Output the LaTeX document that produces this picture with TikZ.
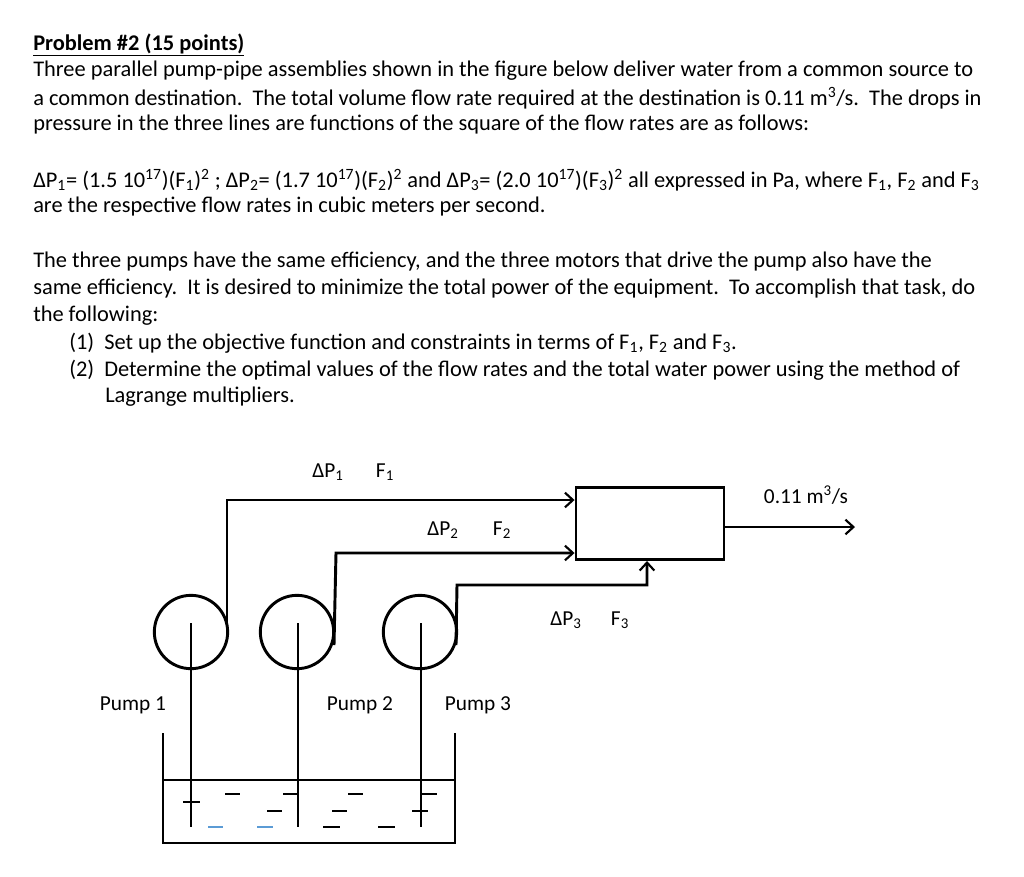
\documentclass[tikz,border=0pt]{standalone}
\usepackage{fontspec}
\setmainfont{Carlito}
\usetikzlibrary{arrows.meta}
\begin{document}
\begin{tikzpicture}[x=0.75pt,y=-0.75pt,
  txt/.style={anchor=west,inner sep=0,font=\fontsize{16.8}{19}\selectfont},
  lab/.style={inner sep=0,font=\fontsize{16}{19}\selectfont},
  pipe/.style={line width=2.2pt},
  thin/.style={line width=1.5pt},
  arr/.style={-{Straight Barb[length=6pt,width=11pt,line width=1.6pt]}}]
\useasboundingbox (0,0) rectangle (1024,876);
\node[txt] (t0) at (33,45) {\textbf{\underline{Problem \#2 (15 points)}}};
\node[txt] (t1) at (33,71) {Three parallel pump-pipe assemblies shown in the figure below deliver water from a common source to};
\node[txt] (t2) at (33,98) {a common destination.\ \ The total volume flow rate required at the destination is 0.11 m\textsuperscript{3}/s.\ \ The drops in};
\node[txt] (t3) at (33,125) {pressure in the three lines are functions of the square of the flow rates are as follows:};
\node[txt] (t4) at (33,180) {ΔP\textsubscript{1}= (1.5 10\textsuperscript{17})(F\textsubscript{1})\textsuperscript{2} ; ΔP\textsubscript{2}= (1.7 10\textsuperscript{17})(F\textsubscript{2})\textsuperscript{2} and ΔP\textsubscript{3}= (2.0 10\textsuperscript{17})(F\textsubscript{3})\textsuperscript{2} all expressed in Pa, where F\textsubscript{1},\ F\textsubscript{2} and F\textsubscript{3}};
\node[txt] (t5) at (33,207) {are the respective flow rates in cubic meters per second.};
\node[txt] (t6) at (33,262) {The three pumps have the same efficiency, and the three motors that drive the pump also have the};
\node[txt] (t7) at (33,289) {same efficiency.\ \ It is desired to minimize the total power of the equipment.\ \ To accomplish that task, do};
\node[txt] (t8) at (33,316) {the following:};
\node[txt] (t9) at (69,343) {(1)\ \ Set up the objective function and constraints in terms of F\textsubscript{1}, F\textsubscript{2} and F\textsubscript{3}.};
\node[txt] (t10) at (69,370) {(2)\ \ Determine the optimal values of the flow rates and the total water power using the method of};
\node[txt] (t11) at (105,397) {Lagrange multipliers.};
% labels
\node[lab] (dp1) at (328,472) {ΔP\textsubscript{1}};
\node[lab] (f1) at (385,472) {F\textsubscript{1}};
\node[lab] (dp2) at (443,530) {ΔP\textsubscript{2}};
\node[lab] (f2) at (502,530) {F\textsubscript{2}};
\node[lab] (dp3) at (566,620) {ΔP\textsubscript{3}};
\node[lab] (f3) at (620,620) {F\textsubscript{3}};
\node[lab] (q) at (806,495) {0.11 m\textsuperscript{3}/s};
\node[lab] (p1) at (133,705) {Pump 1};
\node[lab] (p2) at (360,705) {Pump 2};
\node[lab] (p3) at (478,705) {Pump 3};
% box
\node[draw,pipe,minimum width=111pt,minimum height=54pt,inner sep=0] (box) at (650,523.5) {};
\coordinate (out) at (855,527);
\draw[pipe,arr] (box.east|-out) -- (out);
% pumps
\node[draw,pipe,circle,minimum size=55pt,inner sep=0] (c1) at (191,632) {};
\node[draw,pipe,circle,minimum size=55pt,inner sep=0] (c2) at (297,632) {};
\node[draw,pipe,circle,minimum size=55pt,inner sep=0] (c3) at (420,632) {};
\draw[pipe,arr] (227,640) -- (227,500) -- (box.west|-{(0,500)});
\draw[pipe,arr] (334,645) -- (336,553) -- (box.west|-{(0,553)});
\draw[pipe,arr] (456,645) -- (457,585) -- (647,585) -- (box.south-|{(647,0)});
% shafts
\draw[pipe] (191,623) -- (191,827);
\draw[pipe] (298,623) -- (298,827);
\draw[pipe] (421,623) -- (421,827);
% tank
\draw[thin] (163,733) -- (163,843) -- (455,843) -- (455,733);
\draw[thin] (163,780) -- (455,780);
\foreach \a/\b/\y in {183/200/802,225/240/794,283/298/794,267/282/811,348/363/794,332/347/811,323/340/827,378/395/827,422/437/794,412/428/811}
  \draw[thin] (\a,\y) -- (\b,\y);
\foreach \a/\b in {208/223,257/273}
  \draw[thin,color={rgb,255:red,91;green,155;blue,213}] (\a,827) -- (\b,827);
\end{tikzpicture}
\end{document}
